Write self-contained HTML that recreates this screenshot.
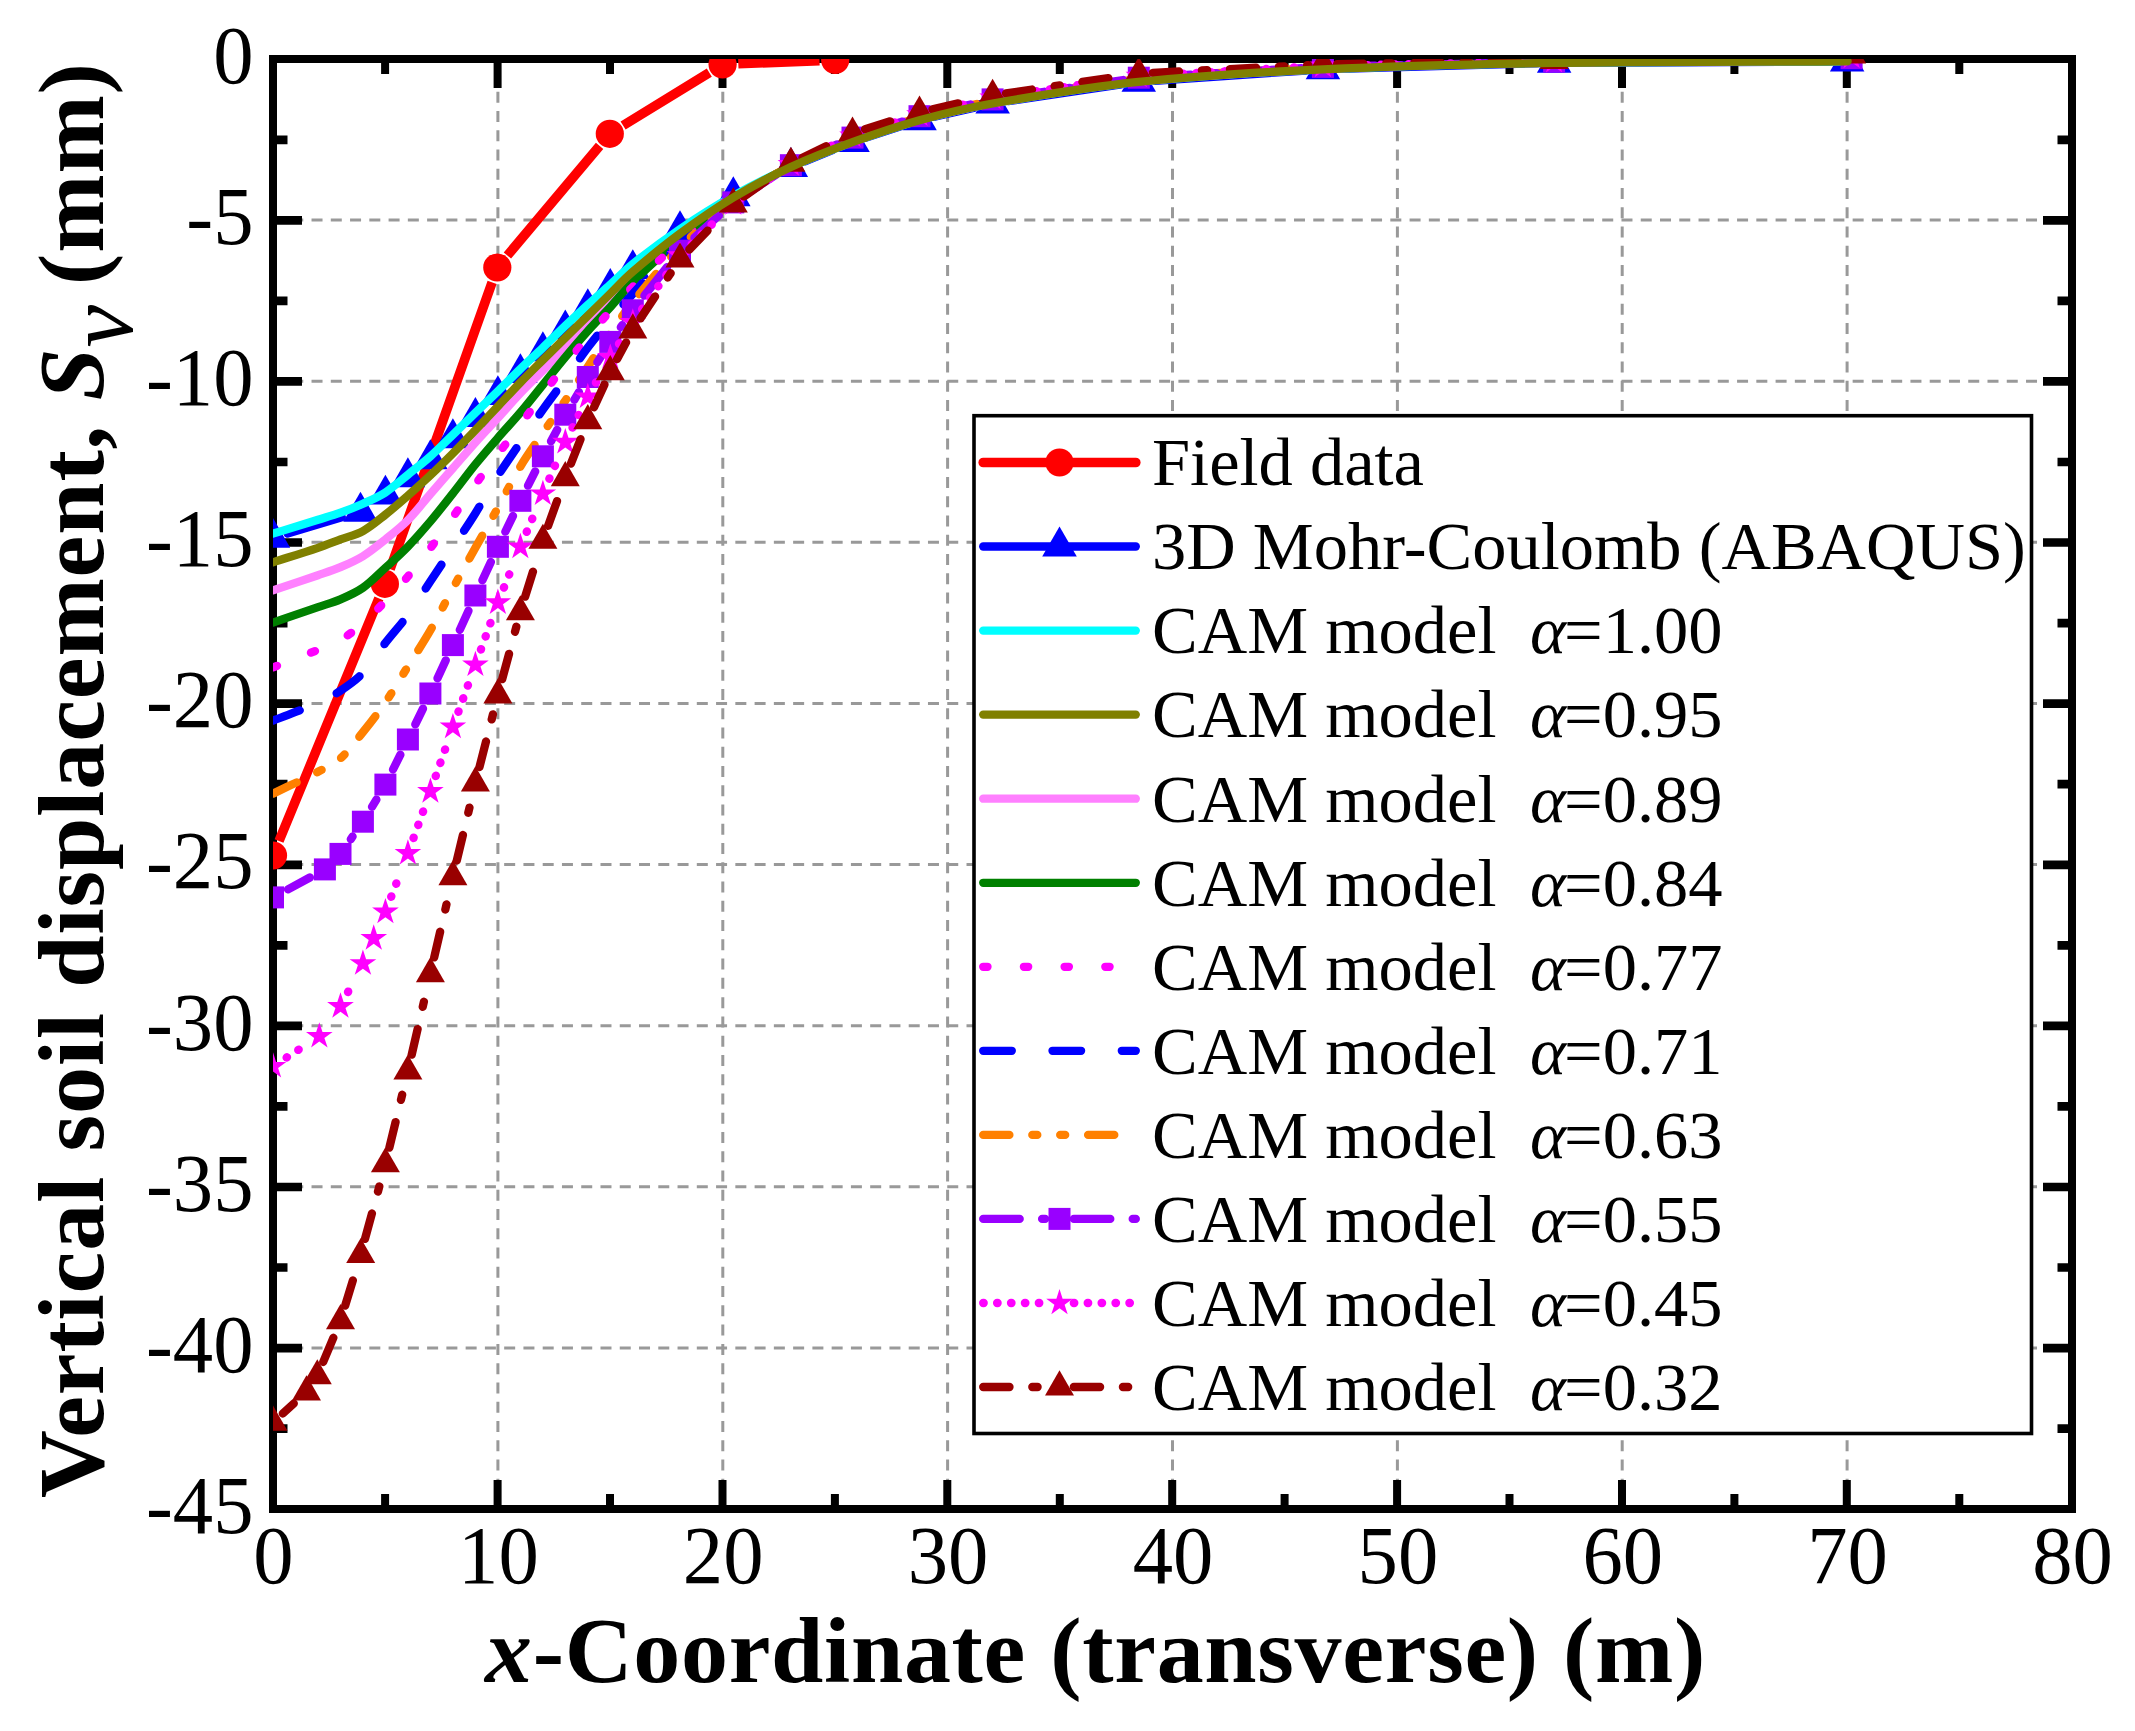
<!DOCTYPE html>
<html lang="en"><head><meta charset="utf-8"><title>Vertical soil displacement</title>
<style>html,body{margin:0;padding:0;background:#fff}svg{display:block}text{font-family:"Liberation Serif",serif;fill:#000}</style></head><body>
<svg width="2135" height="1731" viewBox="0 0 2135 1731">
<rect width="2135" height="1731" fill="#fff"/>
<defs><clipPath id="pc"><rect x="273" y="59" width="1799" height="1450"/></clipPath></defs>
<g stroke="#999" stroke-width="3" fill="none" stroke-dasharray="11 8.264">
<path d="M497.9 1509V59"/>
<path d="M722.8 1509V59"/>
<path d="M947.6 1509V59"/>
<path d="M1172.5 1509V59"/>
<path d="M1397.4 1509V59"/>
<path d="M1622.2 1509V59"/>
<path d="M1847.1 1509V59"/>
<path d="M273 220.1H2072"/>
<path d="M273 381.2H2072"/>
<path d="M273 542.3H2072"/>
<path d="M273 703.4H2072"/>
<path d="M273 864.6H2072"/>
<path d="M273 1025.7H2072"/>
<path d="M273 1186.8H2072"/>
<path d="M273 1347.9H2072"/>
</g>
<g stroke="#000" stroke-width="8" fill="none">
<rect x="273" y="59" width="1799" height="1450"/>
<path d="M385.1 59v15M385.1 1509v-15M497.6 59v29M497.6 1509v-29M610 59v15M610 1509v-15M722.5 59v29M722.5 1509v-29M834.9 59v15M834.9 1509v-15M947.3 59v29M947.3 1509v-29M1059.8 59v15M1059.8 1509v-15M1172.2 59v29M1172.2 1509v-29M1284.6 59v15M1284.6 1509v-15M1397.1 59v29M1397.1 1509v-29M1509.5 59v15M1509.5 1509v-15M1622 59v29M1622 1509v-29M1734.4 59v15M1734.4 1509v-15M1846.8 59v29M1846.8 1509v-29M1959.3 59v15M1959.3 1509v-15"/>
<path d="M273 139.8h14.5M2072 139.8h-14.5M273 220.3h29M2072 220.3h-29M273 300.9h14.5M2072 300.9h-14.5M273 381.4h29M2072 381.4h-29M273 462h14.5M2072 462h-14.5M273 542.5h29M2072 542.5h-29M273 623.1h14.5M2072 623.1h-14.5M273 703.6h29M2072 703.6h-29M273 784.2h14.5M2072 784.2h-14.5M273 864.8h29M2072 864.8h-29M273 945.3h14.5M2072 945.3h-14.5M273 1025.9h29M2072 1025.9h-29M273 1106.4h14.5M2072 1106.4h-14.5M273 1187h29M2072 1187h-29M273 1267.5h14.5M2072 1267.5h-14.5M273 1348.1h29M2072 1348.1h-29M273 1428.6h14.5M2072 1428.6h-14.5" stroke-width="8.7"/>
</g>
<g clip-path="url(#pc)" fill="none" stroke-width="8.3" stroke-linecap="round" stroke-linejoin="round">
<path d="M279 841L378.9 598.4M390.1 569.1L492.1 282.3M507.4 255.5L599.6 145.8M623.1 125.5L709.3 72.7M738.3 63.8L819.5 60.6" stroke="#FF0000" stroke-linecap="butt" stroke-width="9.6"/>
<g stroke="none"><circle cx="273" cy="855.5" r="14.1" fill="#FF0000"/><circle cx="384.9" cy="583.9" r="14.1" fill="#FF0000"/><circle cx="497.3" cy="267.5" r="14.1" fill="#FF0000"/><circle cx="609.8" cy="133.8" r="14.1" fill="#FF0000"/><circle cx="722.6" cy="64.5" r="14.1" fill="#FF0000"/><circle cx="835.2" cy="60" r="14.1" fill="#FF0000"/></g>
<path d="M287.6 533.5L341.8 517.3M644.4 259.5L664.1 243.2M692.7 222.1L713.4 208.9M746.7 189.5L770.1 177.5M804.9 161.3L832.9 150M866.9 137.4L900.6 126.4M934.5 116.8L974.5 107.6M1008.1 101.2L1121.3 84.5M1154.8 80.8L1306 70.5M1339.3 68.9L1537.4 63.3M1570.6 62.8L1830.6 61.7" stroke="#0000FF"/>
<g stroke="none"><polygon points="273,517.9 290.2,547.8 255.8,547.8" fill="#0000FF"/><polygon points="360.5,491.8 377.7,521.7 343.2,521.7" fill="#0000FF"/><polygon points="385.4,474.7 402.7,504.6 368.2,504.6" fill="#0000FF"/><polygon points="407.9,457.3 425.2,487.2 390.7,487.2" fill="#0000FF"/><polygon points="430.4,439.3 447.7,469.2 413.2,469.2" fill="#0000FF"/><polygon points="452.9,418.3 470.1,448.2 435.6,448.2" fill="#0000FF"/><polygon points="475.4,397.1 492.6,426.9 458.1,426.9" fill="#0000FF"/><polygon points="497.9,375.2 515.1,405 480.6,405" fill="#0000FF"/><polygon points="520.4,353.2 537.6,383.1 503.1,383.1" fill="#0000FF"/><polygon points="542.9,331.3 560.1,361.2 525.6,361.2" fill="#0000FF"/><polygon points="565.3,309.4 582.6,339.3 548.1,339.3" fill="#0000FF"/><polygon points="587.8,288.2 605.1,318 570.6,318" fill="#0000FF"/><polygon points="610.3,267.9 627.6,297.7 593.1,297.7" fill="#0000FF"/><polygon points="632.8,249.2 650,279 615.5,279" fill="#0000FF"/><polygon points="680,210.2 697.3,240.1 662.8,240.1" fill="#0000FF"/><polygon points="733.3,176.3 750.6,206.2 716.1,206.2" fill="#0000FF"/><polygon points="790.9,147 808.1,176.9 773.6,176.9" fill="#0000FF"/><polygon points="852.5,122.2 869.8,152.1 835.3,152.1" fill="#0000FF"/><polygon points="919.5,100.3 936.8,130.2 902.3,130.2" fill="#0000FF"/><polygon points="992.6,83.5 1009.9,113.4 975.4,113.4" fill="#0000FF"/><polygon points="1138.8,62 1156,91.8 1121.5,91.8" fill="#0000FF"/><polygon points="1322.9,49.4 1340.2,79.3 1305.7,79.3" fill="#0000FF"/><polygon points="1554.1,42.9 1571.4,72.8 1536.9,72.8" fill="#0000FF"/><polygon points="1847.1,41.7 1864.4,71.5 1829.9,71.5" fill="#0000FF"/></g>
<path d="M273 533.63C287.99 529.01 302.99 524.43 317.98 519.78C325.48 517.45 333.06 515.34 340.46 512.69C348.07 509.97 355.59 506.99 362.95 503.67C370.59 500.22 378.39 496.93 385.44 492.39C393.46 487.22 400.48 480.64 407.93 474.67C415.47 468.61 423.18 462.73 430.41 456.3C438.18 449.4 445.43 441.94 452.9 434.71C460.42 427.44 467.86 420.08 475.39 412.8C482.86 405.58 490.43 398.46 497.88 391.21C505.42 383.85 512.79 376.31 520.36 368.98C527.78 361.81 535.41 354.86 542.85 347.71C550.4 340.46 557.76 333.02 565.34 325.8C572.75 318.73 580.28 311.78 587.83 304.86C595.27 298.03 602.84 291.35 610.31 284.56C617.84 277.71 624.84 270.26 632.8 263.93C648.11 251.76 663.83 240.09 680.02 229.13C697.36 217.41 715.07 206.18 733.32 195.94C752.06 185.43 771.3 175.79 790.89 166.94C811.07 157.83 831.69 149.69 852.5 142.13C874.59 134.11 896.86 126.47 919.52 120.22C943.61 113.57 967.98 107.77 992.6 103.47C1041.12 94.98 1089.78 86.94 1138.77 81.88C1199.98 75.55 1261.47 72.12 1322.94 69.31C1399.95 65.79 1477.03 64.05 1554.11 62.87C1651.94 61.36 1749.79 61.79 1847.62 61.26" stroke="#00FFFF"/>
<path d="M273 590.34C287.99 585.3 303.02 580.34 317.98 575.2C325.5 572.61 333.13 570.24 340.46 567.14C348.14 563.9 355.85 560.56 362.95 556.19C370.91 551.29 378.15 545.28 385.44 539.43C393.15 533.25 400.97 527.13 407.93 520.1C416 511.94 422.89 502.68 430.41 494C437.88 485.38 445.4 476.81 452.9 468.22C460.4 459.63 467.78 450.94 475.39 442.44C482.78 434.19 490.41 426.14 497.88 417.96C505.4 409.71 512.68 401.24 520.36 393.14C527.67 385.45 535.41 378.16 542.85 370.59C550.4 362.91 557.87 355.15 565.34 347.39C572.86 339.57 580.3 331.68 587.83 323.87C595.29 316.11 602.9 308.48 610.31 300.67C617.89 292.69 624.72 283.97 632.8 276.5C647.99 262.46 663.68 248.9 680.02 236.22C697.22 222.88 714.88 210.08 733.32 198.52C751.89 186.89 771.11 176.2 790.89 166.77C810.9 157.22 831.67 149.29 852.5 141.68C874.57 133.63 896.86 126.06 919.52 119.82C943.61 113.18 967.98 107.37 992.6 103.06C1041.12 94.58 1089.78 86.5 1138.77 81.46C1199.98 75.16 1261.47 71.84 1322.94 69.07C1399.95 65.6 1477.04 63.95 1554.11 62.75C1651.94 61.24 1749.79 61.55 1847.62 60.95" stroke="#FF80FF"/>
<path d="M273 622.57C287.99 617.41 302.98 612.26 317.98 607.1C325.47 604.52 333.18 602.5 340.46 599.37C348.21 596.04 356.05 592.61 362.95 587.77C371.16 582.01 378.05 574.57 385.44 567.79C393.04 560.82 400.74 553.93 407.93 546.52C415.75 538.45 423.15 529.97 430.41 521.39C438.15 512.24 445.48 502.76 452.9 493.36C460.47 483.75 467.68 473.85 475.39 464.36C482.68 455.38 490.3 446.67 497.88 437.93C505.29 429.38 513.05 421.12 520.36 412.48C528.05 403.4 535.35 394 542.85 384.77C550.35 375.53 557.71 366.18 565.34 357.06C572.7 348.24 580.14 339.49 587.83 330.96C595.14 322.84 602.92 315.16 610.31 307.11C617.92 298.83 624.73 289.81 632.8 281.98C648 267.22 663.65 252.88 680.02 239.44C697.19 225.36 714.76 211.68 733.32 199.49C751.79 187.35 771.03 176.3 790.89 166.59C810.84 156.84 831.65 148.88 852.5 141.23C874.56 133.14 896.87 125.65 919.52 119.42C943.61 112.78 967.98 106.97 992.6 102.66C1041.12 94.17 1089.77 86.06 1138.77 81.04C1199.97 74.77 1261.48 71.55 1322.94 68.83C1399.95 65.42 1477.04 63.84 1554.11 62.64C1651.94 61.12 1749.79 61.31 1847.62 60.64" stroke="#008000"/>
<path d="M273 667.36C287.99 661.54 303.06 655.92 317.98 649.92C325.55 646.87 333.45 644.4 340.46 640.21C348.56 635.36 355.83 629.21 362.95 623.02C370.85 616.16 378.18 608.67 385.44 601.14C393.17 593.12 400.71 584.9 407.93 576.4C415.71 567.22 423.14 557.73 430.41 548.13C438.13 537.95 445.53 527.51 452.9 517.07C460.52 506.28 467.7 495.19 475.39 484.45C482.69 474.25 490.33 464.3 497.88 454.28C505.33 444.38 512.94 434.6 520.36 424.68C527.93 414.57 535.27 404.29 542.85 394.19C550.26 384.3 557.69 374.42 565.34 364.72C572.68 355.41 580.23 346.25 587.83 337.15C595.22 328.29 602.63 319.44 610.31 310.84C617.62 302.66 625.05 294.57 632.8 286.81C648.29 271.3 663.43 255.37 680.02 241.06C696.99 226.43 714.74 212.64 733.32 200.13C751.77 187.71 770.98 176.33 790.89 166.41C810.8 156.5 831.63 148.47 852.5 140.78C874.54 132.66 896.87 125.24 919.52 119.01C943.61 112.39 967.98 106.57 992.6 102.26C1041.12 93.76 1089.77 85.62 1138.77 80.62C1199.97 74.38 1261.48 71.26 1322.94 68.59C1399.95 65.23 1477.04 63.74 1554.11 62.53C1651.94 60.99 1749.79 61.07 1847.62 60.34" stroke="#FF00FF" stroke-dasharray="4.3 36.4"/>
<path d="M273 720.52C287.99 714.68 303.25 709.5 317.98 703.01C325.78 699.57 333.37 695.53 340.46 690.79C348.42 685.46 356.4 679.9 362.95 672.92C371.52 663.77 377.75 652.68 385.44 642.78C392.74 633.38 400.9 624.63 407.93 615.02C415.91 604.1 422.92 592.5 430.41 581.25C437.91 569.99 445.45 558.77 452.9 547.49C460.44 536.08 468.12 524.76 475.39 513.17C483.12 500.84 490.06 488.04 497.88 475.76C505.06 464.48 512.85 453.58 520.36 442.51C527.84 431.51 535.15 420.39 542.85 409.54C550.15 399.25 557.94 389.33 565.34 379.11C572.93 368.61 580 357.73 587.83 347.41C595 337.95 602.68 328.89 610.31 319.79C617.67 311.02 625.03 302.24 632.8 293.83C648.28 277.06 663.28 259.78 680.02 244.28C696.85 228.7 714.57 213.98 733.32 200.78C751.62 187.9 770.93 176.36 790.89 166.24C810.76 156.16 831.61 148.06 852.5 140.33C874.52 132.18 896.87 124.83 919.52 118.61C943.62 111.99 967.98 106.17 992.6 101.86C1041.12 93.36 1089.77 85.17 1138.77 80.2C1199.97 73.99 1261.48 70.98 1322.94 68.34C1399.95 65.05 1477.04 63.64 1554.11 62.42C1651.94 60.87 1749.79 60.83 1847.62 60.03" stroke="#0000FF" stroke-dasharray="28.6 40.7"/>
<path d="M273 793.67C287.99 786.37 303.2 779.51 317.98 771.79C325.71 767.74 333.92 764.16 340.46 758.39C349.11 750.76 355.74 741.1 362.95 732.1C370.74 722.38 378.4 712.54 385.44 702.26C393.41 690.63 400.45 678.38 407.93 666.42C415.44 654.38 423.33 642.57 430.41 630.26C438.33 616.5 445.3 602.22 452.9 588.28C460.29 574.74 467.86 561.31 475.39 547.84C482.85 534.48 490.47 521.2 497.88 507.81C505.46 494.1 512.29 479.95 520.36 466.53C527.29 455 535.27 444.14 542.85 433.03C550.27 422.15 557.95 411.45 565.34 400.56C572.94 389.35 580.33 378 587.83 366.72C595.32 355.44 602.56 343.99 610.31 332.89C617.56 322.51 624.79 312.09 632.8 302.28C648.05 283.6 663.01 264.58 680.02 247.5C696.6 230.87 714.41 215.35 733.32 201.42C751.48 188.05 770.88 176.29 790.89 165.88C810.72 155.57 831.57 147.25 852.5 139.43C874.49 131.21 896.88 124.01 919.52 117.81C943.62 111.2 967.98 105.37 992.6 101.05C1041.12 92.54 1089.76 84.29 1138.77 79.36C1199.97 73.22 1261.48 70.4 1322.94 67.86C1399.96 64.68 1477.04 63.43 1554.11 62.19C1651.94 60.62 1749.79 60.34 1847.62 59.42" stroke="#FF8000" stroke-dasharray="26.2 22.9 5 22.9 5 22.9"/>
<path d="M288 889.3L309.9 877.5M350.8 839.2L352.6 836.5M372 806.8L376.4 799.6M393 769.5L400.4 754.7M415.3 724.4L423 708.6M437.5 678.3L445.8 660.3M459.8 629.9L468.5 610.7M482.4 580.3L490.9 562M505.3 531.7L513 515.9M528 485.7L535.2 471.4M551 441.3L557.2 429.8M574.3 399.8L578.9 392M597.3 362.2L600.8 356.8M620.8 327.2L622.3 325.1M644.4 295.7L668.5 265.3M694.4 237.7L718.9 215.5M748.2 192.8L776 174.8M806.1 158.4L837.3 144.4M867.9 132.7L904.1 121.1M935 112.6L977.1 103M1008.1 97.1L1123.2 80M1154.4 76.8L1307.3 67.8M1338.5 66.5L1538.5 62.1M1569.7 61.6L1836 58.4" stroke="#9900FF" stroke-dasharray="36.5 22.4 3.5 22.4"/>
<g stroke="none"><rect x="262" y="886.4" width="22" height="22" fill="#9900FF"/><rect x="313.9" y="858.4" width="22" height="22" fill="#9900FF"/><rect x="329.5" y="842.9" width="22" height="22" fill="#9900FF"/><rect x="351.9" y="810.7" width="22" height="22" fill="#9900FF"/><rect x="374.4" y="773.6" width="22" height="22" fill="#9900FF"/><rect x="396.9" y="728.5" width="22" height="22" fill="#9900FF"/><rect x="419.4" y="682.5" width="22" height="22" fill="#9900FF"/><rect x="441.9" y="634.1" width="22" height="22" fill="#9900FF"/><rect x="464.4" y="584.5" width="22" height="22" fill="#9900FF"/><rect x="486.9" y="535.8" width="22" height="22" fill="#9900FF"/><rect x="509.4" y="489.8" width="22" height="22" fill="#9900FF"/><rect x="531.9" y="445.3" width="22" height="22" fill="#9900FF"/><rect x="554.3" y="403.7" width="22" height="22" fill="#9900FF"/><rect x="576.8" y="366" width="22" height="22" fill="#9900FF"/><rect x="599.3" y="330.9" width="22" height="22" fill="#9900FF"/><rect x="621.8" y="299.3" width="22" height="22" fill="#9900FF"/><rect x="669" y="239.7" width="22" height="22" fill="#9900FF"/><rect x="722.3" y="191.4" width="22" height="22" fill="#9900FF"/><rect x="779.9" y="154.2" width="22" height="22" fill="#9900FF"/><rect x="841.5" y="126.6" width="22" height="22" fill="#9900FF"/><rect x="908.5" y="105.2" width="22" height="22" fill="#9900FF"/><rect x="981.6" y="88.4" width="22" height="22" fill="#9900FF"/><rect x="1127.8" y="66.7" width="22" height="22" fill="#9900FF"/><rect x="1311.9" y="55.9" width="22" height="22" fill="#9900FF"/><rect x="1543.1" y="50.7" width="22" height="22" fill="#9900FF"/><rect x="1840.6" y="47.2" width="22" height="22" fill="#9900FF"/></g>
<path d="M286.6 1057.5L302.1 1047.4M348 992L353.4 981.6M391.2 896.8L400.6 872.4M413.5 838.1L423.4 810.7M435.7 776.1L446.2 746.3M458.4 711.8L468.4 684M480.9 649.6L490.9 621.8M503.9 587.6L512.7 565.8M526.7 531.9L534.9 512.5M549.3 478.8L557.1 460.9M572.5 427.6L578.7 415M595.9 382.6L600.1 375.2M619 343.8L621.8 339.5M642.1 309.1L668.2 272.3M691.6 244.2L718.7 217.7M746.7 194.3L773.9 175.9M805.6 157.6L833.9 144.5M867.9 130.9L900 120.8M935.3 111L972.6 102.4M1008.6 95.4L1118.5 79M1154.9 75.1L1302.5 67M1339.1 65.6L1533.6 61.7M1570.3 61.1L1831.1 57.3" stroke="#FF00FF" stroke-dasharray="0.5 13.4"/>
<g stroke="none"><polygon points="273,1052.3 276.1,1061.9 286.3,1061.9 278.1,1067.9 281.2,1077.6 273,1071.6 264.8,1077.6 267.9,1067.9 259.7,1061.9 269.9,1061.9" fill="#FF00FF"/><polygon points="319.3,1022.3 322.5,1032 332.6,1032 324.4,1038 327.6,1047.6 319.3,1041.6 311.1,1047.6 314.2,1038 306,1032 316.2,1032" fill="#FF00FF"/><polygon points="340.5,992.3 343.6,1002 353.8,1002 345.5,1008 348.7,1017.7 340.5,1011.7 332.2,1017.7 335.4,1008 327.1,1002 337.3,1002" fill="#FF00FF"/><polygon points="362.9,949.5 366.1,959.2 376.3,959.2 368,965.1 371.2,974.8 362.9,968.8 354.7,974.8 357.9,965.1 349.6,959.2 359.8,959.2" fill="#FF00FF"/><polygon points="373.7,924.3 376.9,934 387.1,934 378.8,940 382,949.7 373.7,943.7 365.5,949.7 368.7,940 360.4,934 370.6,934" fill="#FF00FF"/><polygon points="385.4,897.9 388.6,907.6 398.8,907.6 390.5,913.6 393.7,923.2 385.4,917.3 377.2,923.2 380.4,913.6 372.1,907.6 382.3,907.6" fill="#FF00FF"/><polygon points="407.9,839.3 411.1,849 421.2,849 413,854.9 416.2,864.6 407.9,858.6 399.7,864.6 402.8,854.9 394.6,849 404.8,849" fill="#FF00FF"/><polygon points="430.4,777.4 433.6,787.1 443.7,787.1 435.5,793.1 438.6,802.7 430.4,796.8 422.2,802.7 425.3,793.1 417.1,787.1 427.3,787.1" fill="#FF00FF"/><polygon points="452.9,713 456,722.6 466.2,722.6 458,728.6 461.1,738.3 452.9,732.3 444.7,738.3 447.8,728.6 439.6,722.6 449.8,722.6" fill="#FF00FF"/><polygon points="475.4,650.8 478.5,660.5 488.7,660.5 480.5,666.4 483.6,676.1 475.4,670.1 467.2,676.1 470.3,666.4 462.1,660.5 472.2,660.5" fill="#FF00FF"/><polygon points="497.9,588.6 501,598.3 511.2,598.3 503,604.2 506.1,613.9 497.9,607.9 489.6,613.9 492.8,604.2 484.6,598.3 494.7,598.3" fill="#FF00FF"/><polygon points="520.4,532.8 523.5,542.5 533.7,542.5 525.4,548.5 528.6,558.2 520.4,552.2 512.1,558.2 515.3,548.5 507,542.5 517.2,542.5" fill="#FF00FF"/><polygon points="542.9,479.7 546,489.4 556.2,489.4 547.9,495.3 551.1,505 542.9,499 534.6,505 537.8,495.3 529.5,489.4 539.7,489.4" fill="#FF00FF"/><polygon points="565.3,428.1 568.5,437.8 578.7,437.8 570.4,443.8 573.6,453.4 565.3,447.5 557.1,453.4 560.3,443.8 552,437.8 562.2,437.8" fill="#FF00FF"/><polygon points="587.8,382.7 591,392.4 601.1,392.4 592.9,398.3 596.1,408 587.8,402 579.6,408 582.7,398.3 574.5,392.4 584.7,392.4" fill="#FF00FF"/><polygon points="610.3,343.4 613.5,353.1 623.6,353.1 615.4,359 618.5,368.7 610.3,362.7 602.1,368.7 605.2,359 597,353.1 607.2,353.1" fill="#FF00FF"/><polygon points="632.8,308.3 635.9,317.9 646.1,317.9 637.9,323.9 641,333.6 632.8,327.6 624.6,333.6 627.7,323.9 619.5,317.9 629.7,317.9" fill="#FF00FF"/><polygon points="680,241.6 683.2,251.2 693.3,251.2 685.1,257.2 688.3,266.9 680,260.9 671.8,266.9 674.9,257.2 666.7,251.2 676.9,251.2" fill="#FF00FF"/><polygon points="733.3,189.4 736.5,199 746.6,199 738.4,205 741.5,214.7 733.3,208.7 725.1,214.7 728.2,205 720,199 730.2,199" fill="#FF00FF"/><polygon points="790.9,150.5 794,160.1 804.2,160.1 796,166.1 799.1,175.8 790.9,169.8 782.7,175.8 785.8,166.1 777.6,160.1 787.7,160.1" fill="#FF00FF"/><polygon points="852.5,121.8 855.6,131.5 865.8,131.5 857.6,137.5 860.7,147.1 852.5,141.2 844.3,147.1 847.4,137.5 839.2,131.5 849.4,131.5" fill="#FF00FF"/><polygon points="919.5,100.6 922.7,110.3 932.8,110.3 924.6,116.2 927.7,125.9 919.5,119.9 911.3,125.9 914.4,116.2 906.2,110.3 916.4,110.3" fill="#FF00FF"/><polygon points="992.6,83.8 995.7,93.5 1005.9,93.5 997.7,99.5 1000.8,109.2 992.6,103.2 984.4,109.2 987.5,99.5 979.3,93.5 989.5,93.5" fill="#FF00FF"/><polygon points="1138.8,62 1141.9,71.7 1152.1,71.7 1143.9,77.7 1147,87.3 1138.8,81.4 1130.5,87.3 1133.7,77.7 1125.5,71.7 1135.6,71.7" fill="#FF00FF"/><polygon points="1322.9,51.9 1326.1,61.6 1336.3,61.6 1328,67.6 1331.2,77.3 1322.9,71.3 1314.7,77.3 1317.9,67.6 1309.6,61.6 1319.8,61.6" fill="#FF00FF"/><polygon points="1554.1,47.3 1557.3,57 1567.4,57 1559.2,62.9 1562.3,72.6 1554.1,66.6 1545.9,72.6 1549,62.9 1540.8,57 1551,57" fill="#FF00FF"/><polygon points="1851.6,43 1854.8,52.6 1864.9,52.6 1856.7,58.6 1859.9,68.3 1851.6,62.3 1843.4,68.3 1846.5,58.6 1838.3,52.6 1848.5,52.6" fill="#FF00FF"/></g>
<path d="M282.8 1413.5L293.8 1403.5M323.2 1362L335.2 1333.4M345.2 1305.5L356.8 1267.5M365 1238.9L382 1176.7M389.4 1147.6L404.8 1083.9M411.7 1054.7L427.4 986.6M434.2 957.4L449.9 889.7M456.8 860.5L472.3 795.9M479.5 767L494.6 707.9M502.2 679.2L516.9 624.7M525.1 596.7L538.8 553.2M548.1 525.8L560.8 490.6M570.9 463.7L582.8 433.5M594 407.3L604.5 384.4M617.1 359.1L626.1 342.4M640.5 318.4L671.9 271.3M689.3 249.5L722 215.7M743.9 196.5L775.3 174.4M802.5 157.7L834.9 141.8M865.1 129.2L903.3 117.2M932.5 109.2L977 99M1006 93.4L1123.6 75.8M1152.8 72.8L1308.4 65.2M1337.1 64.2L1539.8 60.9M1568.3 60.4L1837.3 55.4" stroke="#990000" stroke-dasharray="26.3 22.8 5.3 22.8"/>
<g stroke="none"><polygon points="273,1405.6 287.5,1430.7 258.5,1430.7" fill="#990000"/><polygon points="306.5,1375.3 321,1400.4 292,1400.4" fill="#990000"/><polygon points="317.3,1359.2 331.8,1384.3 302.8,1384.3" fill="#990000"/><polygon points="340.5,1304.1 355,1329.2 326,1329.2" fill="#990000"/><polygon points="360.7,1238 375.2,1263.1 346.2,1263.1" fill="#990000"/><polygon points="385.4,1147.2 399.9,1172.3 370.9,1172.3" fill="#990000"/><polygon points="407.9,1054.4 422.4,1079.5 393.4,1079.5" fill="#990000"/><polygon points="430.4,957 444.9,982.2 415.9,982.2" fill="#990000"/><polygon points="452.9,860.1 467.4,885.2 438.4,885.2" fill="#990000"/><polygon points="475.4,766.3 489.9,791.4 460.9,791.4" fill="#990000"/><polygon points="497.9,678.3 512.4,703.4 483.4,703.4" fill="#990000"/><polygon points="520.4,595.2 534.9,620.3 505.9,620.3" fill="#990000"/><polygon points="542.9,523.7 557.4,548.8 528.4,548.8" fill="#990000"/><polygon points="565.3,461.1 579.8,486.3 550.8,486.3" fill="#990000"/><polygon points="587.8,404.1 602.3,429.2 573.3,429.2" fill="#990000"/><polygon points="610.3,355.1 624.8,380.2 595.8,380.2" fill="#990000"/><polygon points="632.8,313.2 647.3,338.4 618.3,338.4" fill="#990000"/><polygon points="680,242.4 694.5,267.5 665.5,267.5" fill="#990000"/><polygon points="733.3,187.3 747.8,212.4 718.8,212.4" fill="#990000"/><polygon points="790.9,146.7 805.4,171.8 776.4,171.8" fill="#990000"/><polygon points="852.5,116.4 867,141.5 838,141.5" fill="#990000"/><polygon points="919.5,95.4 934,120.5 905,120.5" fill="#990000"/><polygon points="992.6,78.7 1007.1,103.8 978.1,103.8" fill="#990000"/><polygon points="1138.8,56.8 1153.3,81.9 1124.3,81.9" fill="#990000"/><polygon points="1322.9,47.7 1337.4,72.8 1308.4,72.8" fill="#990000"/><polygon points="1554.1,43.9 1568.6,69 1539.6,69" fill="#990000"/><polygon points="1851.6,38.4 1866.1,63.5 1837.1,63.5" fill="#990000"/></g>
<path d="M273 562.31C287.99 557.48 303.06 552.87 317.98 547.81C325.55 545.24 332.97 542.23 340.46 539.43C347.96 536.64 355.95 534.92 362.95 531.06C371.08 526.57 378.15 520.37 385.44 514.62C393.15 508.55 400.53 502.07 407.93 495.61C415.53 488.97 423.05 482.22 430.41 475.31C438.04 468.15 445.51 460.81 452.9 453.4C460.5 445.77 467.95 437.98 475.39 430.2C482.94 422.3 490.38 414.3 497.88 406.36C505.37 398.41 512.76 390.36 520.36 382.51C527.75 374.89 535.33 367.45 542.85 359.96C550.32 352.52 557.81 345.11 565.34 337.72C572.81 330.39 580.36 323.14 587.83 315.81C595.35 308.43 602.79 300.96 610.31 293.58C617.78 286.25 624.86 278.49 632.8 271.67C648.12 258.49 663.76 245.64 680.02 233.64C697.29 220.91 714.94 208.62 733.32 197.56C751.94 186.35 771.18 176.11 790.89 166.94C810.96 157.61 831.69 149.69 852.5 142.13C874.59 134.11 896.86 126.47 919.52 120.22C943.61 113.57 967.98 107.77 992.6 103.47C1041.12 94.98 1089.78 86.94 1138.77 81.88C1199.98 75.55 1261.47 72.12 1322.94 69.31C1399.95 65.79 1477.03 64.05 1554.11 62.87C1651.94 61.36 1749.79 61.79 1847.62 61.26" stroke="#808000"/>
</g>
<rect x="974" y="415.7" width="1057.5" height="1017.8" fill="#fff" stroke="#000" stroke-width="3.6"/>
<g fill="none" stroke-width="8.3" stroke-linecap="round">
<path d="M983.2 462.5H1135.8" stroke="#FF0000" stroke-width="9.6"/>
<circle cx="1059.5" cy="462.5" r="14.1" fill="#FF0000" stroke="none"/>
<path d="M983.2 546.5H1135.8" stroke="#0000FF"/>
<polygon points="1059.5,526.6 1076.8,556.5 1042.2,556.5" fill="#0000FF" stroke="none"/>
<path d="M983.2 630.6H1135.8" stroke="#00FFFF"/>
<path d="M983.2 714.6H1135.8" stroke="#808000"/>
<path d="M983.2 798.7H1135.8" stroke="#FF80FF"/>
<path d="M983.2 882.8H1135.8" stroke="#008000"/>
<path d="M983.2 966.8H1135.8" stroke="#FF00FF" stroke-dasharray="4.3 36.4"/>
<path d="M983.2 1050.8H1135.8" stroke="#0000FF" stroke-dasharray="28.6 40.7"/>
<path d="M983.2 1134.9H1135.8" stroke="#FF8000" stroke-dasharray="26.2 22.9 5 22.9 5 22.9"/>
<path d="M983.2 1218.9H1045.2M1073.8 1218.9H1135.8" stroke="#9900FF" stroke-dasharray="36.5 22.4 3.5 22.4"/>
<rect x="1048.5" y="1207.9" width="22" height="22" fill="#9900FF" stroke="none"/>
<path d="M983.2 1303H1045.2M1073.8 1303H1135.8" stroke="#FF00FF" stroke-dasharray="0.5 13.4"/>
<polygon points="1059.5,1289 1062.6,1298.7 1072.8,1298.7 1064.6,1304.7 1067.7,1314.3 1059.5,1308.3 1051.3,1314.3 1054.4,1304.7 1046.2,1298.7 1056.4,1298.7" fill="#FF00FF" stroke="none"/>
<path d="M983.2 1387H1045.2M1073.8 1387H1135.8" stroke="#990000" stroke-dasharray="26.3 22.8 5.3 22.8"/>
<polygon points="1059.5,1370.3 1074,1395.4 1045,1395.4" fill="#990000" stroke="none"/>
</g>
<g font-size="68.5px">
<text x="1152" y="485.3">Field data</text>
<text x="1152" y="569.3">3D Mohr-Coulomb (ABAQUS)</text>
<text x="1152" y="653.4" xml:space="preserve">CAM model<tspan x="1530" font-style="italic">α</tspan><tspan x="1564">=1.00</tspan></text>
<text x="1152" y="737.4" xml:space="preserve">CAM model<tspan x="1530" font-style="italic">α</tspan><tspan x="1564">=0.95</tspan></text>
<text x="1152" y="821.5" xml:space="preserve">CAM model<tspan x="1530" font-style="italic">α</tspan><tspan x="1564">=0.89</tspan></text>
<text x="1152" y="905.5" xml:space="preserve">CAM model<tspan x="1530" font-style="italic">α</tspan><tspan x="1564">=0.84</tspan></text>
<text x="1152" y="989.6" xml:space="preserve">CAM model<tspan x="1530" font-style="italic">α</tspan><tspan x="1564">=0.77</tspan></text>
<text x="1152" y="1073.6" xml:space="preserve">CAM model<tspan x="1530" font-style="italic">α</tspan><tspan x="1564">=0.71</tspan></text>
<text x="1152" y="1157.7" xml:space="preserve">CAM model<tspan x="1530" font-style="italic">α</tspan><tspan x="1564">=0.63</tspan></text>
<text x="1152" y="1241.7" xml:space="preserve">CAM model<tspan x="1530" font-style="italic">α</tspan><tspan x="1564">=0.55</tspan></text>
<text x="1152" y="1325.8" xml:space="preserve">CAM model<tspan x="1530" font-style="italic">α</tspan><tspan x="1564">=0.45</tspan></text>
<text x="1152" y="1409.8" xml:space="preserve">CAM model<tspan x="1530" font-style="italic">α</tspan><tspan x="1564">=0.32</tspan></text>
</g>
<g font-size="83.2px" text-anchor="middle">
<text transform="translate(273.5 1583.3) scale(0.97 1)">0</text>
<text transform="translate(498.4 1583.3) scale(0.97 1)">10</text>
<text transform="translate(723.2 1583.3) scale(0.97 1)">20</text>
<text transform="translate(948.1 1583.3) scale(0.97 1)">30</text>
<text transform="translate(1173 1583.3) scale(0.97 1)">40</text>
<text transform="translate(1397.9 1583.3) scale(0.97 1)">50</text>
<text transform="translate(1622.8 1583.3) scale(0.97 1)">60</text>
<text transform="translate(1847.6 1583.3) scale(0.97 1)">70</text>
<text transform="translate(2072.5 1583.3) scale(0.97 1)">80</text>
</g>
<g font-size="83.2px" text-anchor="end">
<text transform="translate(253.5 82.8) scale(0.97 1)">0</text>
<text transform="translate(253.5 243.9) scale(0.97 1)">-5</text>
<text transform="translate(253.5 405) scale(0.97 1)">-10</text>
<text transform="translate(253.5 566.1) scale(0.97 1)">-15</text>
<text transform="translate(253.5 727.2) scale(0.97 1)">-20</text>
<text transform="translate(253.5 888.4) scale(0.97 1)">-25</text>
<text transform="translate(253.5 1049.5) scale(0.97 1)">-30</text>
<text transform="translate(253.5 1210.6) scale(0.97 1)">-35</text>
<text transform="translate(253.5 1371.7) scale(0.97 1)">-40</text>
<text transform="translate(253.5 1532.8) scale(0.97 1)">-45</text>
</g>
<text x="485" y="1682" font-size="94px" letter-spacing="0.7" font-weight="bold"><tspan font-style="italic">x</tspan>-Coordinate (transverse) (m)</text>
<text transform="translate(103 1498) rotate(-90)" font-size="94px" letter-spacing="0.9" font-weight="bold">Vertical soil displacement, <tspan font-style="italic">S</tspan><tspan font-style="italic" font-weight="normal" font-size="96px" dy="29">v</tspan><tspan dy="-29" dx="-5.5"> (mm)</tspan></text>
</svg></body></html>
